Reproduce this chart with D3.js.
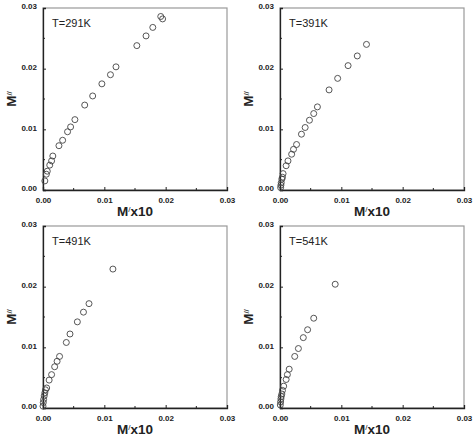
<!DOCTYPE html>
<html>
<head>
<meta charset="utf-8">
<script src="https://cdn.jsdelivr.net/npm/d3@7"></script>
<style>
  body { margin: 0; background: #fff; }
  text { font-family: "Liberation Sans", Arial, sans-serif; fill: #222; }
</style>
</head>
<body>
<svg id="chart" width="474" height="437"></svg>
<script>
// M' x10 (x) and M'' (y)
const temps = ["T=291K", "T=391K", "T=491K", "T=541K"];

const m1x = [0.0003, 0.00055, 0.0007, 0.0011, 0.0014, 0.0016, 0.0026, 0.0032, 0.0040, 0.0045, 0.0052,
             0.0068, 0.0081, 0.0096, 0.0110, 0.0119, 0.0153, 0.0168, 0.0179, 0.0192, 0.0195];
const m1y = [0.0015, 0.0026, 0.0031, 0.0041, 0.0048, 0.0056, 0.0073, 0.0082, 0.0096, 0.0104, 0.0116,
             0.0140, 0.0155, 0.0175, 0.0190, 0.0203, 0.0238, 0.0254, 0.0268, 0.0286, 0.0282];

const m2x = [0.0001, 0.00015, 0.0002, 0.0003, 0.0004, 0.0005, 0.0010, 0.0013, 0.0019, 0.0022, 0.0027,
             0.0035, 0.0041, 0.0048, 0.0055, 0.0061, 0.0080, 0.0094, 0.0111, 0.0126, 0.0141];
const m2y = [0.0004, 0.0008, 0.0012, 0.0018, 0.0021, 0.0027, 0.0040, 0.0048, 0.0059, 0.0067, 0.0075,
             0.0092, 0.0103, 0.0115, 0.0126, 0.0137, 0.0165, 0.0184, 0.0205, 0.0221, 0.0240];

const m3x = [0.0000, 0.00005, 0.0001, 0.0002, 0.0003, 0.0004, 0.0006, 0.0010, 0.0014, 0.0019, 0.0023,
             0.0027, 0.0038, 0.0044, 0.0056, 0.0066, 0.0075, 0.0114];
const m3y = [0.0003, 0.0009, 0.0014, 0.0020, 0.0025, 0.0030, 0.0033, 0.0046, 0.0055, 0.0068, 0.0077,
             0.0085, 0.0108, 0.0122, 0.0142, 0.0158, 0.0172, 0.0229];

const m4x = [0.00005, 0.0001, 0.00015, 0.0002, 0.0003, 0.0004, 0.0006, 0.0010, 0.0012, 0.0015, 0.0024,
             0.0030, 0.0038, 0.0045, 0.0055, 0.0090];
const m4y = [0.0005, 0.0010, 0.0015, 0.0019, 0.0023, 0.0029, 0.0036, 0.0047, 0.0055, 0.0064, 0.0085,
             0.0098, 0.0116, 0.0129, 0.0148, 0.0204];

const majorTicks = [0, 0.01, 0.02, 0.03];
const minorTicks = [0.005, 0.015, 0.025];

const panelW = 184, panelH = 182;
const origins = [[43, 8], [280, 8], [43, 226], [280, 226]];
const seriesX = [m1x, m2x, m3x, m4x];
const seriesY = [m1y, m2y, m3y, m4y];

const svg = d3.select("#chart");

temps.forEach(function (label, i) {
    drawPanel(origins[i], label, seriesX[i], seriesY[i]);
});

function drawPanel(origin, label, xs, ys) {
    const g = svg.append("g")
        .attr("transform", "translate(" + origin[0] + "," + origin[1] + ")");

    const x = d3.scaleLinear().domain([0, 0.03]).range([0, panelW]);
    const y = d3.scaleLinear().domain([0, 0.03]).range([panelH, 0]);

    // frame (top and right edges are lighter)
    g.append("rect")
        .attr("width", panelW)
        .attr("height", panelH)
        .attr("fill", "none")
        .attr("stroke", "#999")
        .attr("stroke-width", 1.2);

    // bottom axis, ticks pointing inward
    const xAxis = g.append("g")
        .attr("transform", "translate(0," + panelH + ")")
        .call(d3.axisBottom(x).tickValues(majorTicks).tickSize(-3).tickPadding(6).tickFormat(d3.format(".2f")));
    xAxis.append("g").selectAll("line")
        .data(minorTicks)
        .join("line")
        .attr("x1", d => x(d)).attr("x2", d => x(d))
        .attr("y1", 0).attr("y2", -2)
        .attr("stroke", "#222");

    const yAxis = g.append("g")
        .call(d3.axisLeft(y).tickValues(majorTicks).tickSize(-3).tickPadding(6).tickFormat(d3.format(".2f")));
    yAxis.append("g").selectAll("line")
        .data(minorTicks)
        .join("line")
        .attr("y1", d => y(d)).attr("y2", d => y(d))
        .attr("x1", 0).attr("x2", 2)
        .attr("stroke", "#222");

    [xAxis, yAxis].forEach(function (ax) {
        ax.select(".domain").attr("stroke", "#222").attr("stroke-width", 1.3);
        ax.selectAll(".tick line").attr("stroke", "#222");
        ax.selectAll(".tick text")
            .style("font-family", "'Liberation Sans', Arial, sans-serif")
            .style("font-size", "8px")
            .style("font-weight", "bold")
            .attr("fill", "#333");
    });
    xAxis.selectAll(".tick text").attr("dy", "0.85em");
    yAxis.selectAll(".tick text").attr("dy", "0.1em");

    // axis titles
    const xt = g.append("text")
        .attr("x", panelW / 2)
        .attr("y", panelH + 26)
        .attr("text-anchor", "middle")
        .style("font-size", "13.5px")
        .style("font-weight", "bold")
        .attr("fill", "#333");
    xt.append("tspan").text("M");
    xt.append("tspan").attr("dy", -4).style("font-size", "8px").style("font-weight", "normal").text("/");
    xt.append("tspan").attr("dy", 4).text("x10");

    const yt = g.append("text")
        .attr("transform", "translate(-27," + (panelH / 2) + ") rotate(-90)")
        .attr("text-anchor", "middle")
        .style("font-size", "13.5px")
        .style("font-weight", "bold")
        .attr("fill", "#333");
    yt.append("tspan").text("M");
    yt.append("tspan").attr("dy", -4).style("font-size", "8px").style("font-weight", "normal").text("//");

    // temperature label
    g.append("text")
        .attr("x", 9)
        .attr("y", 19)
        .style("font-size", "11px")
        .text(label);

    // points
    g.append("g").selectAll("circle")
        .data(xs.map((v, k) => ({x: v, y: ys[k]})))
        .join("circle")
        .attr("cx", d => x(d.x))
        .attr("cy", d => y(d.y))
        .attr("r", 3)
        .attr("fill", "none")
        .attr("stroke", "#444")
        .attr("stroke-width", 0.9);
}
</script>
</body>
</html>
